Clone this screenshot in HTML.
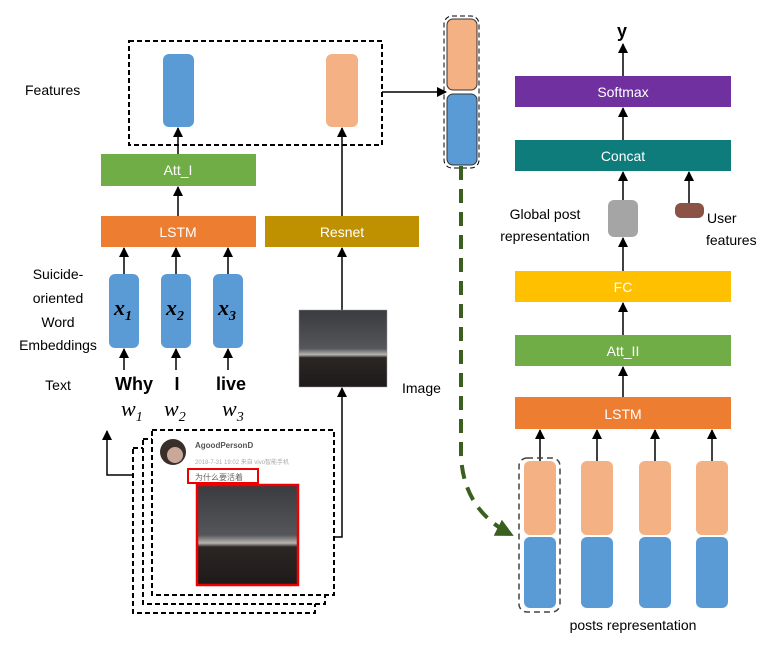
<!DOCTYPE html>
<html><head><meta charset="utf-8"><style>
html,body{margin:0;padding:0;background:#fff;}
svg{display:block;}
text{font-family:"Liberation Sans","Noto Sans CJK SC",sans-serif;}
text.serif, .serif text{font-family:"Liberation Serif",serif;}
</style></head><body>
<svg width="770" height="648" viewBox="0 0 770 648" xmlns="http://www.w3.org/2000/svg">
<defs>
<marker id="ar" markerWidth="10" markerHeight="10" refX="9" refY="5" orient="auto" markerUnits="userSpaceOnUse">
<path d="M0,0 L10,5 L0,10 z" fill="#000"/></marker>
<marker id="ag" markerWidth="20" markerHeight="18" refX="16" refY="9" orient="auto" markerUnits="userSpaceOnUse">
<path d="M0,0 L18,9 L0,18 z" fill="#3a5f1e"/></marker>
<linearGradient id="sky" x1="0" y1="0" x2="0" y2="1">
<stop offset="0" stop-color="#3a3b40"/><stop offset="0.5" stop-color="#55565a"/><stop offset="0.58" stop-color="#b8b4b0"/><stop offset="0.62" stop-color="#2b2624"/><stop offset="1" stop-color="#1e1a19"/></linearGradient>
</defs>

<text x="25" y="95" font-size="14">Features</text>
<g font-size="14" text-anchor="middle">
<text x="58" y="279">Suicide-</text>
<text x="58" y="303">oriented</text>
<text x="58" y="327">Word</text>
<text x="58" y="350">Embeddings</text>
<text x="58" y="390">Text</text>
</g>

<rect x="129" y="41" width="253" height="104" fill="none" stroke="#000" stroke-width="2" stroke-dasharray="5,3"/>
<rect x="163" y="54" width="31" height="73" rx="6" fill="#5b9bd5"/>
<rect x="326" y="54" width="32" height="73" rx="6" fill="#f4b183"/>

<rect x="101" y="154" width="155" height="32" fill="#70ad47"/>
<text x="178" y="175" font-size="14" fill="#fff" text-anchor="middle">Att_I</text>
<rect x="101" y="216" width="155" height="31" fill="#ed7d31"/>
<text x="178" y="237" font-size="14" fill="#fff" text-anchor="middle">LSTM</text>
<rect x="265" y="216" width="154" height="31" fill="#bf9000"/>
<text x="342" y="237" font-size="14" fill="#fff" text-anchor="middle">Resnet</text>

<g stroke="#000" stroke-width="1.5" fill="none" marker-end="url(#ar)">
<line x1="178" y1="154" x2="178" y2="128"/>
<line x1="178" y1="216" x2="178" y2="187"/>
<line x1="342" y1="216" x2="342" y2="128"/>
<line x1="124" y1="274" x2="124" y2="248"/>
<line x1="176" y1="274" x2="176" y2="248"/>
<line x1="228" y1="274" x2="228" y2="248"/>
<line x1="124" y1="370" x2="124" y2="349"/>
<line x1="176" y1="370" x2="176" y2="349"/>
<line x1="228" y1="370" x2="228" y2="349"/>
<line x1="342" y1="310" x2="342" y2="248"/>
<polyline points="298,537 342,537 342,388"/>
<polyline points="187,475 107,475 107,431"/>
<line x1="382" y1="92" x2="446" y2="92"/>
</g>

<g fill="#5b9bd5">
<rect x="109" y="274" width="30" height="74" rx="6"/>
<rect x="161" y="274" width="30" height="74" rx="6"/>
<rect x="213" y="274" width="30" height="74" rx="6"/>
</g>
<g class="serif" font-style="italic" font-weight="bold" font-size="22">
<text x="114" y="315">x<tspan font-size="14" dy="5">1</tspan></text>
<text x="166" y="315">x<tspan font-size="14" dy="5">2</tspan></text>
<text x="218" y="315">x<tspan font-size="14" dy="5">3</tspan></text>
</g>
<g font-size="18" font-weight="bold" text-anchor="middle">
<text x="134" y="390">Why</text>
<text x="177" y="390">I</text>
<text x="231" y="390">live</text>
</g>
<g class="serif" font-style="italic" font-size="22">
<text x="121" y="416">w<tspan font-size="14" dy="5">1</tspan></text>
<text x="164" y="416">w<tspan font-size="14" dy="5">2</tspan></text>
<text x="222" y="416">w<tspan font-size="14" dy="5">3</tspan></text>
</g>

<rect x="299" y="310" width="88" height="77" fill="url(#sky)" stroke="#999" stroke-width="0.5"/>
<text x="402" y="393" font-size="14">Image</text>

<g fill="#fff" stroke="#000" stroke-width="2" stroke-dasharray="5,3">
<rect x="133" y="448" width="182" height="165"/>
<rect x="143" y="439" width="182" height="165"/>
<rect x="152" y="430" width="182" height="165"/>
</g>
<circle cx="173" cy="452" r="13" fill="#3a2e2a"/>
<circle cx="175" cy="455" r="8" fill="#c9a89a"/>
<text x="195" y="448" font-size="8" font-weight="bold" fill="#555">AgoodPersonD</text>
<text x="195" y="464" font-size="6" fill="#aaa">2018-7-31 19:02 来自 vivo智能手机</text>
<rect x="188" y="469" width="70" height="14" fill="#fff" stroke="#e00" stroke-width="2"/>
<text x="195" y="480" font-size="8" fill="#666">为什么要活着</text>
<rect x="197" y="485" width="101" height="100" fill="url(#sky)" stroke="#e00" stroke-width="2.5"/>

<rect x="444" y="16" width="35" height="152" rx="8" fill="none" stroke="#000" stroke-width="1" stroke-dasharray="5,3"/>
<rect x="447" y="19" width="30" height="71" rx="6" fill="#f4b183" stroke="#333" stroke-width="1"/>
<rect x="447" y="94" width="30" height="71" rx="6" fill="#5b9bd5" stroke="#333" stroke-width="1"/>
<path d="M461,166 L461,455 Q463,510 512,535" fill="none" stroke="#3a5f1e" stroke-width="4" stroke-dasharray="14,9" marker-end="url(#ag)"/>

<text x="622" y="37" font-size="18" font-weight="bold" text-anchor="middle">y</text>
<rect x="515" y="76" width="216" height="31" fill="#7030a0"/>
<text x="623" y="97" font-size="14" fill="#fff" text-anchor="middle">Softmax</text>
<rect x="515" y="140" width="216" height="31" fill="#0e7c7b"/>
<text x="623" y="161" font-size="14" fill="#fff" text-anchor="middle">Concat</text>
<rect x="608" y="200" width="30" height="37" rx="6" fill="#a5a5a5"/>
<rect x="675" y="203" width="29" height="15" rx="6" fill="#8b5246"/>
<text x="545" y="219" font-size="14" text-anchor="middle">Global post</text>
<text x="545" y="241" font-size="14" text-anchor="middle">representation</text>
<text x="707" y="223" font-size="14">User</text>
<text x="706" y="245" font-size="14">features</text>
<rect x="515" y="271" width="216" height="31" fill="#ffc000"/>
<text x="623" y="292" font-size="14" fill="#fff" text-anchor="middle">FC</text>
<rect x="515" y="335" width="216" height="31" fill="#70ad47"/>
<text x="623" y="356" font-size="14" fill="#fff" text-anchor="middle">Att_II</text>
<rect x="515" y="397" width="216" height="32" fill="#ed7d31"/>
<text x="623" y="419" font-size="14" fill="#fff" text-anchor="middle">LSTM</text>

<g stroke="#000" stroke-width="1.5" fill="none" marker-end="url(#ar)">
<line x1="623" y1="76" x2="623" y2="44"/>
<line x1="623" y1="140" x2="623" y2="108"/>
<line x1="623" y1="200" x2="623" y2="172"/>
<line x1="689" y1="203" x2="689" y2="172"/>
<line x1="623" y1="271" x2="623" y2="238"/>
<line x1="623" y1="335" x2="623" y2="303"/>
<line x1="623" y1="397" x2="623" y2="367"/>
<line x1="540" y1="461" x2="540" y2="430"/>
<line x1="597" y1="461" x2="597" y2="430"/>
<line x1="655" y1="461" x2="655" y2="430"/>
<line x1="712" y1="461" x2="712" y2="430"/>
</g>
<g fill="#f4b183">
<rect x="524" y="461" width="32" height="74" rx="6"/>
<rect x="581" y="461" width="32" height="74" rx="6"/>
<rect x="639" y="461" width="32" height="74" rx="6"/>
<rect x="696" y="461" width="32" height="74" rx="6"/>
</g>
<g fill="#5b9bd5">
<rect x="524" y="537" width="32" height="71" rx="6"/>
<rect x="581" y="537" width="32" height="71" rx="6"/>
<rect x="639" y="537" width="32" height="71" rx="6"/>
<rect x="696" y="537" width="32" height="71" rx="6"/>
</g>
<rect x="519" y="458" width="41" height="154" rx="8" fill="none" stroke="#444" stroke-width="1.5" stroke-dasharray="6,4"/>
<text x="633" y="630" font-size="14" text-anchor="middle">posts representation</text>
</svg>
</body></html>
